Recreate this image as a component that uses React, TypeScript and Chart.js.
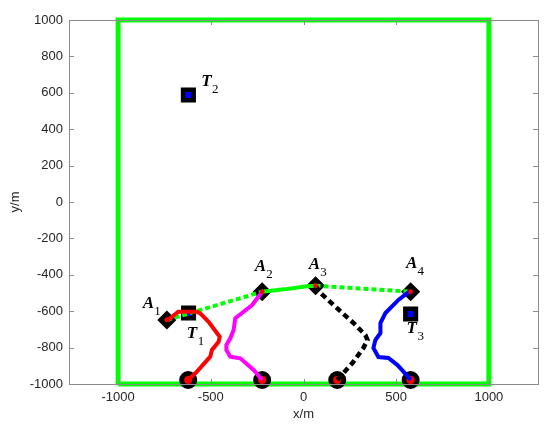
import React, { useEffect, useRef } from "react";
import { Chart, registerables } from "chart.js";
Chart.register(...registerables);

const xTicks = [-1000, -500, 0, 500, 1000];
const yTicks = [-1000, -800, -600, -400, -200, 0, 200, 400, 600, 800, 1000];

const boundaryX = [-1000, 1000, 1000, -1000, -1000];
const boundaryY = [-1000, -1000, 1000, 1000, -1000];

const redX = [-622, -575, -503, -494, -458, -452, -512, -557, -575, -676, -719, -737];
const redY = [-978, -932, -850, -813, -768, -740, -658, -612, -603, -603, -639, -648];

const magentaX = [-223, -269, -341, -395, -416, -416, -395, -377, -368, -277, -223];
const magentaY = [-978, -923, -859, -850, -813, -786, -749, -703, -639, -566, -493];

const blackX = [182, 264, 323, 345, 334, 270, 162, 92, 65];
const blackY = [-978, -885, -802, -758, -731, -665, -566, -500, -460];

const blueX = [578, 566, 507, 458, 404, 377, 388, 415, 415, 442, 512, 566, 578];
const blueY = [-978, -962, -896, -857, -852, -802, -758, -720, -665, -610, -538, -495, -493];

const greenSolidX = [-223, -105, 20, 65];
const greenSolidY = [-493, -480, -463, -460];
const greenDash1X = [-737, -223];
const greenDash1Y = [-648, -493];
const greenDash2X = [65, 578];
const greenDash2Y = [-460, -493];

const startX = [-622, -223, 182, 578];
const startY = [-978, -978, -978, -978];

const agentX = [-737, -223, 65, 578];
const agentY = [-648, -493, -460, -493];

const targetX = [-620, -621, 578];
const targetY = [-610, 588, -615];

const labelMain = ["A", "A", "A", "A", "T", "T", "T"];
const labelSub = ["1", "2", "3", "4", "1", "2", "3"];
const labelX = [-836, -232, 59, 584, -602, -524, 584];
const labelY = [-557, -355, -346, -337, -722, 661, -694];

const pts = (xs: number[], ys: number[]) => xs.map((x, i) => ({ x, y: ys[i] }));

const labelPlugin = {
  id: "labelPlugin",
  afterDatasetsDraw(chart: any) {
    const { ctx, scales } = chart;
    const sx = scales.x;
    const sy = scales.y;
    ctx.save();
    ctx.fillStyle = "#000";
    ctx.textAlign = "center";
    ctx.textBaseline = "middle";
    labelMain.forEach((t, i) => {
      const px = sx.getPixelForValue(labelX[i]);
      const py = sy.getPixelForValue(labelY[i]);
      ctx.font = 'italic bold 17px "Liberation Serif"';
      ctx.fillText(t, px, py);
      ctx.font = '13px "Liberation Serif"';
      ctx.fillText(labelSub[i], px + 9, py + 8);
    });
    ctx.restore();
  },
};

const boxPlugin = {
  id: "boxPlugin",
  afterDraw(chart: any) {
    const { ctx, chartArea, scales } = chart;
    const { left, right, top, bottom } = chartArea;
    ctx.save();
    ctx.strokeStyle = "#8a8a8a";
    ctx.lineWidth = 1;
    ctx.strokeRect(Math.round(left) + 0.5, Math.round(top) + 0.5, Math.round(right - left), Math.round(bottom - top));
    ctx.beginPath();
    xTicks.forEach((v) => {
      const px = Math.round(scales.x.getPixelForValue(v)) + 0.5;
      ctx.moveTo(px, bottom);
      ctx.lineTo(px, bottom - 5);
      ctx.moveTo(px, top);
      ctx.lineTo(px, top + 5);
    });
    yTicks.forEach((v) => {
      const py = Math.round(scales.y.getPixelForValue(v)) + 0.5;
      ctx.moveTo(left, py);
      ctx.lineTo(left + 5, py);
      ctx.moveTo(right, py);
      ctx.lineTo(right - 5, py);
    });
    ctx.stroke();
    ctx.restore();
  },
};

export default function App() {
  const ref = useRef<HTMLCanvasElement | null>(null);
  useEffect(() => {
    document.body.style.margin = "0";
    const line = (xs: number[], ys: number[], color: string, dash: number[] = [], order = 5, width = 4) => ({
      type: "scatter",
      data: pts(xs, ys),
      showLine: true,
      borderColor: color,
      backgroundColor: color,
      borderWidth: width,
      borderDash: dash,
      pointRadius: 0,
      order,
      clip: false,
    });
    const chart = new Chart(ref.current as HTMLCanvasElement, {
      type: "scatter",
      data: {
        datasets: [
          line(boundaryX, boundaryY, "#00ff00", [], 10, 5),
          line(redX, redY, "#ff0000"),
          line(magentaX, magentaY, "#ff00ff"),
          line(blackX, blackY, "#000000", [6, 4], 5, 4.5),
          line(blueX, blueY, "#0000ff"),
          line(greenSolidX, greenSolidY, "#00ff00"),
          line(greenDash1X, greenDash1Y, "#00ff00", [5, 3]),
          line(greenDash2X, greenDash2Y, "#00ff00", [5, 3]),
          {
            data: pts(startX, startY),
            showLine: false,
            pointStyle: "circle",
            pointRadius: 6.5,
            pointBorderWidth: 5,
            pointBorderColor: "#000",
            pointBackgroundColor: "#ff0000",
            order: 8,
            clip: false,
          },
          {
            data: pts(agentX, agentY),
            showLine: false,
            pointStyle: "rectRot",
            pointRadius: 8.5,
            pointBorderWidth: 1.5,
            pointBorderColor: "#000",
            pointBackgroundColor: "#000",
            order: 8,
          },
          {
            data: pts(agentX, agentY),
            showLine: false,
            pointStyle: "circle",
            pointRadius: 2.4,
            pointBorderWidth: 0,
            pointBackgroundColor: "#ff0000",
            order: 1,
          },
          {
            data: pts(targetX, targetY),
            showLine: false,
            pointStyle: "rect",
            pointRadius: 7.5,
            pointBorderWidth: 4.5,
            pointBorderColor: "#000",
            pointBackgroundColor: "#0000ff",
            order: 8,
          },
        ] as any,
      },
      plugins: [labelPlugin, boxPlugin],
      options: {
        animation: false,
        responsive: false,
        maintainAspectRatio: false,
        layout: { padding: { top: 20, right: 12, left: 0, bottom: 0 } },
        plugins: { legend: { display: false }, tooltip: { enabled: false } },
        scales: {
          x: {
            type: "linear",
            min: -1265,
            max: 1265,
            afterBuildTicks: (s: any) => {
              s.ticks = xTicks.map((v) => ({ value: v }));
            },
            afterFit: (s: any) => {
              s.height = 48;
            },
            grid: { display: false, drawTicks: false },
            border: { display: false },
            ticks: {
              padding: 6,
              color: "#262626",
              font: { family: '"Liberation Sans", Arial', size: 13 },
              callback: (v: any) => String(v),
            },
            title: {
              display: true,
              text: "x/m",
              color: "#262626",
              font: { family: '"Liberation Sans", Arial', size: 13 },
              padding: { top: 0, bottom: 10 },
            },
          },
          y: {
            type: "linear",
            min: -1000,
            max: 1000,
            afterBuildTicks: (s: any) => {
              s.ticks = yTicks.map((v) => ({ value: v }));
            },
            afterFit: (s: any) => {
              s.width = 69;
            },
            grid: { display: false, drawTicks: false },
            border: { display: false },
            ticks: {
              padding: 6,
              color: "#262626",
              font: { family: '"Liberation Sans", Arial', size: 13 },
              callback: (v: any) => String(v),
            },
            title: {
              display: true,
              text: "y/m",
              color: "#262626",
              font: { family: '"Liberation Sans", Arial', size: 13 },
              padding: { top: 8, bottom: 0 },
            },
          },
        },
      } as any,
    });
    return () => chart.destroy();
  }, []);
  return <canvas ref={ref} width={550} height={432} style={{ display: "block", width: 550, height: 432 }} />;
}
